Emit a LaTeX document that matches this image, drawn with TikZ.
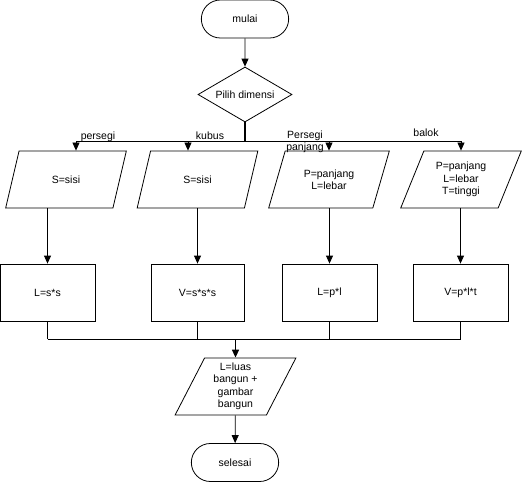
\documentclass[tikz,border=0pt]{standalone}
\usepackage{fontspec}
\setmainfont{Liberation Sans}
\usepackage{tikz}
\usetikzlibrary{shapes.geometric,shapes.misc,arrows.meta}

\begin{document}
\begin{tikzpicture}[x=1pt,y=-1pt,
	font=\fontsize{10.5}{12.5}\selectfont,
	term/.style={shape=rounded rectangle,draw=black,line width=0.8pt,minimum width=94pt,minimum height=38pt},
	choice/.style={shape=diamond,draw=black,line width=0.8pt,aspect=1.7,inner sep=0pt,minimum width=94pt,minimum height=55pt},
	io/.style={shape=trapezium,trapezium left angle=66,trapezium right angle=114,trapezium stretches=true,draw=black,line width=0.8pt,align=center,inner sep=1pt,minimum width=121pt,minimum height=57pt},
	proc/.style={shape=rectangle,draw=black,line width=0.8pt,minimum width=95pt,minimum height=57pt},
	flow/.style={draw=black,line width=0.8pt,-{Triangle[width=7pt,length=8pt]}},
	wire/.style={draw=black,line width=0.8pt},
	branch/.style={inner sep=0pt,align=center}]
	\useasboundingbox (0, 0) rectangle (525, 482);

	\node[term] (start) at (245, 19)       {mulai};
	\node[choice] (dim) at (245, 94.5)     {Pilih dimensi};
	\node[io] (in1) at (66, 179.5)         {S=sisi};
	\node[io] (in2) at (197.5, 179.5)      {S=sisi};
	\node[io] (in3) at (329, 179.5)        {P=panjang\\L=lebar};
	\node[io] (in4) at (461, 179.5)        {P=panjang\\L=lebar\\T=tinggi};
	\node[proc] (p1) at (47.5, 292.5)      {L=s*s};
	\node[proc,minimum width=93pt] (p2) at (197.5, 292.5) {V=s*s*s};
	\node[proc] (p3) at (329.5, 292.5)     {L=p*l};
	\node[proc] (p4) at (460.5, 292.5)     {V=p*l*t};
	\node[io] (out) at (235.5, 386.5)      {L=luas\\bangun +\\gambar\\bangun};
	\node[term] (stop) at (235, 462.5)     {selesai};

	\node[branch,anchor=base] (lb1) at (98, 139)  {persegi};
	\node[branch,anchor=base] (lb2) at (210, 139) {kubus};
	\node[branch] (lb3) at (305, 142)             {Persegi\\panjang};
	\node[branch,anchor=base] (lb4) at (426, 136) {balok};

	\coordinate (fork) at (245, 141);
	\coordinate (b1) at (76, 141);
	\coordinate (b2) at (188, 141);
	\coordinate (b3) at (329, 141);
	\coordinate (b4) at (461, 141);
	\coordinate (merge) at (235.5, 339);

	\draw[flow] (start) -- (dim);
	\draw[wire,line width=1.6pt] (dim.south) -- (fork);
	\draw[wire] (b1) -- (b4);
	\draw[flow] (b1) -- (b1 |- in1.north);
	\draw[flow] (b2) -- (b2 |- in2.north);
	\draw[flow] (b3) -- (b3 |- in3.north);
	\draw[flow] (b4) -- (b4 |- in4.north);

	\draw[flow] (in1.south -| p1.north) -- (p1.north);
	\draw[flow] (in2.south -| p2.north) -- (p2.north);
	\draw[flow] (in3.south -| p3.north) -- (p3.north);
	\draw[flow] (in4.south -| p4.north) -- (p4.north);

	\draw[wire] (p1.south) -- (p1.south |- merge);
	\draw[wire] (p2.south) -- (p2.south |- merge);
	\draw[wire] (p3.south) -- (p3.south |- merge);
	\draw[wire] (p4.south) -- (p4.south |- merge);
	\draw[wire] (p1.south |- merge) -- (p4.south |- merge);
	\draw[flow,line width=1.6pt] (merge) -- (merge |- out.north);
	\draw[flow] (out) -- (stop);
\end{tikzpicture}
\end{document}
